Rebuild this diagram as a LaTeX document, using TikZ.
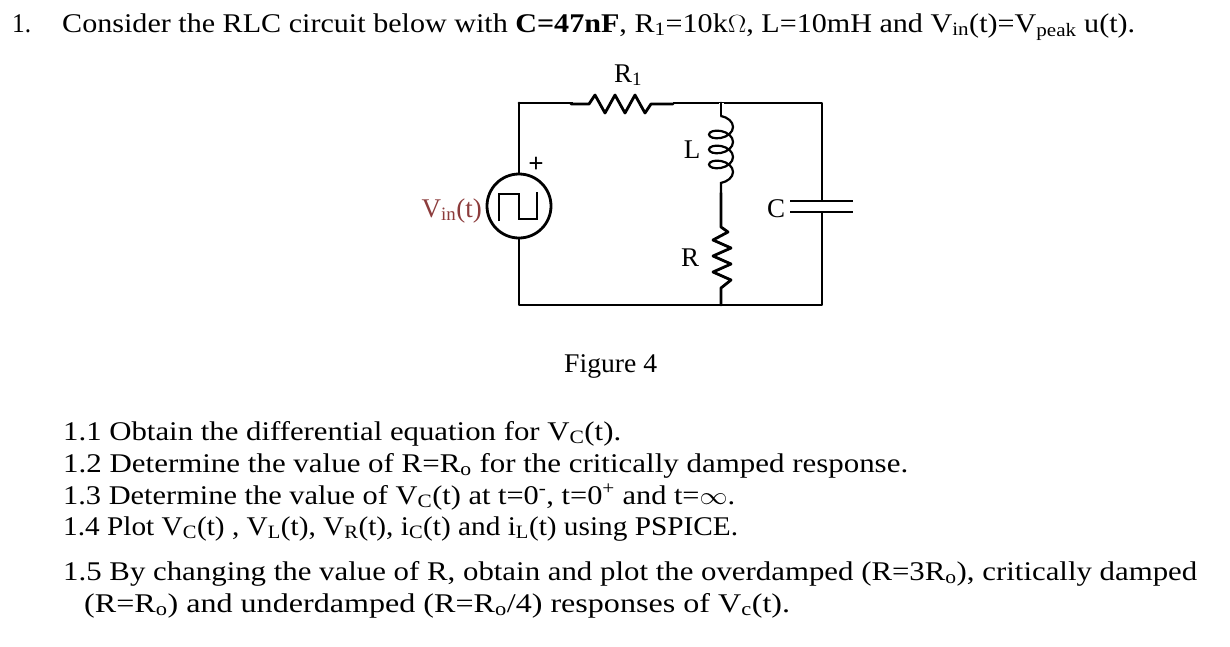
\documentclass[tikz,border=0pt]{standalone}
\usepackage{fontspec}
\usepackage{graphicx}
\setmainfont{Liberation Serif}
\usetikzlibrary{decorations.pathmorphing}
\newcommand{\fitw}[2]{\resizebox{#1pt}{\height}{#2}}
\definecolor{vbrown}{RGB}{140,60,60}
\begin{document}
\begin{tikzpicture}[x=1pt,y=-1pt,
  txt/.style={anchor=base west,inner sep=0pt,font=\fontsize{27}{30}\selectfont},
  lbl/.style={inner sep=0pt,font=\fontsize{27}{30}\selectfont},
  wire/.style={line width=2.8pt,line cap=round,line join=round}]
\useasboundingbox (0,0) rectangle (1230,646);
% text
\node[txt] (t1n) at (12,32) {\fitw{19}{1.}};
\node[txt] (t1) at (62,32) {\fitw{1073}{Consider the RLC circuit below with \textbf{C=47nF}, R\textsubscript{1}=10k$\Omega$, L=10mH and V\textsubscript{in}(t)=V\textsubscript{peak} u(t).}};
\node[txt] (fig) at (564,372) {\fitw{93}{Figure 4}};
\node[txt] (q1) at (63,440) {\fitw{558}{1.1 Obtain the differential equation for V\textsubscript{C}(t).}};
\node[txt] (q2) at (63,472) {\fitw{845}{1.2 Determine the value of R=R\textsubscript{o} for the critically damped response.}};
\node[txt] (q3) at (63,504) {\fitw{672}{1.3 Determine the value of V\textsubscript{C}(t) at t=0\textsuperscript{-}, t=0\textsuperscript{+} and t=$\infty$.}};
\node[txt] (q4) at (63,535) {\fitw{675}{1.4 Plot V\textsubscript{C}(t) , V\textsubscript{L}(t), V\textsubscript{R}(t), i\textsubscript{C}(t) and i\textsubscript{L}(t) using PSPICE.}};
\node[txt] (q5) at (63,580) {\fitw{1134}{1.5 By changing the value of R, obtain and plot the overdamped (R=3R\textsubscript{o}), critically damped}};
\node[txt] (q5b) at (84,612) {\fitw{706}{(R=R\textsubscript{o}) and underdamped (R=R\textsubscript{o}/4) responses of V\textsubscript{c}(t).}};
% circuit
\coordinate (tl) at (519,103); \coordinate (bl) at (519,305);
\coordinate (tm) at (721,103); \coordinate (bm) at (721,305);
\coordinate (tr) at (822,103); \coordinate (br) at (822,305);
\node[circle,draw,line width=2.8pt,minimum size=64pt,inner sep=0pt] (src) at (519,206) {};
\draw[wire] (tl) -- (src.north); \draw[wire] (src.south) -- (bl) -- (br) -- (tr) -- (tl);
\draw[line width=2.8pt,line join=miter] (499,221) -- (499,194) -- (519,194) -- (519,219) -- (537,219) -- (537,192);
\draw[white,line width=5pt] (573,103) -- (673,103);
\draw[wire] (571,104) -- (589,104) -- (595,95) -- (605,113) -- (615,95) -- (625,113) -- (635,95) -- (645,113) -- (651,104) -- (673,104);
% L
\draw[white,line width=5pt] (tm) -- (721,200);
\draw[wire] (tm) -- (721,116);
\draw[line width=2.2pt,decorate,decoration={coil,aspect=0.6,segment length=15pt,amplitude=12pt}] (721,116) -- (721,193);
\draw[wire] (721,193) -- (721,227) -- (728,232) -- (713,240) -- (731,248) -- (713,256) -- (731,264) -- (713,272) -- (731,280) -- (721,288) -- (bm);
% C
\draw[white,line width=9pt] (822,202) -- (822,211);
\draw[line width=2.8pt] (790,201) -- (853,201);
\draw[line width=2.8pt] (790,212) -- (853,212);
% labels
\node[lbl,anchor=base] (lr1) at (628,82) {R\textsubscript{1}};
\node[lbl,anchor=base] (ll) at (692,158) {L};
\node[lbl,anchor=base] (lr) at (690,266) {R};
\node[lbl,anchor=base] (lc) at (776,217) {C};
\node[lbl,anchor=base east,text=vbrown] (lv) at (482,217) {V\textsubscript{in}(t)};
\node[lbl,anchor=center] (lp) at (536,165) {\textbf{+}};
\end{tikzpicture}
\end{document}
